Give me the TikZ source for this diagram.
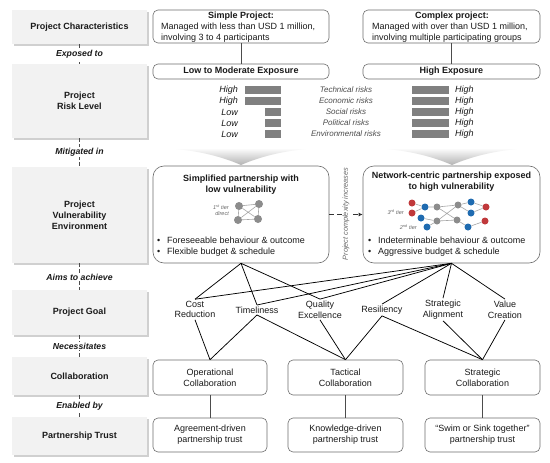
\documentclass[tikz,border=0pt]{standalone}
\usepackage{fontspec}
\setmainfont{Liberation Sans}
\usetikzlibrary{arrows.meta,shadows}
\definecolor{leftfill}{HTML}{F2F2F2}
\definecolor{boxline}{HTML}{6E6E6E}
\definecolor{barcol}{HTML}{808080}
\definecolor{txt}{HTML}{1A1A1A}
\definecolor{redn}{HTML}{C0393B}
\definecolor{bluen}{HTML}{1F6BB0}
\definecolor{greyn}{HTML}{8C8C8C}
\definecolor{edgec}{HTML}{A6A6A6}
\begin{document}
\begin{tikzpicture}[x=1pt,y=-1pt,
  leftbox/.style={fill=leftfill, draw=none, minimum width=135pt, inner sep=2pt, align=center,
     font=\fontsize{9}{10.8}\selectfont\bfseries, text=txt,
     drop shadow={shadow xshift=1.5pt, shadow yshift=-1.5pt, fill=black!30, opacity=0.6}},
  connlabel/.style={fill=white, inner sep=1pt, font=\fontsize{8.7}{10}\selectfont\bfseries\itshape, text=txt},
  rbox/.style={draw=boxline, line width=0.6pt, rounded corners=5pt, inner sep=0pt},
  vbox/.style={draw=boxline, line width=0.6pt, rounded corners=11pt, inner sep=0pt},
  regtext/.style={font=\fontsize{9}{10.8}\selectfont, text=txt, inner sep=0pt},
  boldtext/.style={font=\fontsize{9}{11}\selectfont\bfseries, text=txt, inner sep=0pt},
  risklvl/.style={font=\fontsize{9}{10}\selectfont\itshape, text=txt, inner sep=0pt},
  riskname/.style={font=\fontsize{8}{9}\selectfont\itshape, text=black!70, inner sep=0pt},
  riskbar/.style={fill=barcol, draw=none},
  goal/.style={font=\fontsize{9}{10.8}\selectfont, text=txt, align=center, inner sep=1.5pt},
  conn/.style={line width=0.75pt, draw=black},
  vconn/.style={line width=0.9pt, draw=black!70},
  dashconn/.style={line width=0.8pt, draw=black!70, dash pattern=on 4pt off 2pt},
  dot/.style={circle, inner sep=0pt, minimum size=7pt},
  bigdot/.style={circle, inner sep=0pt, minimum size=8pt, fill=greyn},
  nedge/.style={draw=edgec, line width=0.6pt},
  tier/.style={font=\fontsize{5.5}{6}\selectfont\itshape, text=black!60, inner sep=0pt}
]
\useasboundingbox (0,0) rectangle (550,463);
\fill[white] (0,0) rectangle (550,463);

% ---------- left column ----------
\node[leftbox, minimum height=34pt] (pc) at (79.5,27) {Project Characteristics};
\node[leftbox, minimum height=74pt] (prl) at (79.5,101) {Project\\Risk Level};
\node[leftbox, minimum height=96pt] (pve) at (79.5,215) {Project\\Vulnerability\\Environment};
\node[leftbox, minimum height=45pt] (pg) at (79.5,312.5) {Project Goal};
\node[leftbox, minimum height=38pt] (col) at (79.5,376) {Collaboration};
\node[leftbox, minimum height=38pt] (ptr) at (79.5,436) {Partnership Trust};

\draw[dashconn] (pc.south) -- (prl.north);
\draw[dashconn] (prl.south) -- (pve.north);
\draw[dashconn] (pve.south) -- (pg.north);
\draw[dashconn] (pg.south) -- (col.north);
\draw[dashconn] (col.south) -- (ptr.north);
\node[connlabel] (l1) at (79.5,54.5) {Exposed to};
\node[connlabel] (l2) at (79.5,152) {Mitigated in};
\node[connlabel] (l3) at (79.5,277) {Aims to achieve};
\node[connlabel] (l4) at (79.5,346) {Necessitates};
\node[connlabel] (l5) at (79.5,406) {Enabled by};

% ---------- project characteristics ----------
\node[rbox, minimum width=176pt, minimum height=33pt] (sp) at (241,26.5) {};
\node[boldtext] (spt) at (241,16.5) {Simple Project:};
\node[regtext, anchor=west, align=left] (spb) at (161,33) {Managed with less than USD 1 million,\\involving 3 to 4 participants};
\node[rbox, minimum width=177pt, minimum height=33pt] (cp) at (451.5,26.5) {};
\node[boldtext] (cpt) at (452,16.5) {Complex project:};
\node[regtext, anchor=west, align=left] (cpb) at (372,33) {Managed with over than USD 1 million,\\involving multiple participating groups};

% ---------- exposure ----------
\node[rbox, minimum width=176pt, minimum height=15pt, font=\fontsize{9}{10}\selectfont\bfseries, text=txt] (lme) at (241,71.5) {Low to Moderate Exposure};
\node[rbox, minimum width=177pt, minimum height=15pt, font=\fontsize{9}{10}\selectfont\bfseries, text=txt] (he) at (451.5,71.5) {High Exposure};
\draw[vconn] (sp.south) -- (lme.north);
\draw[vconn] (cp.south) -- (he.north);

% risk rows
\node[risklvl, anchor=east] (a1) at (238,90) {High};
\node[risklvl, anchor=east] (a2) at (238,101) {High};
\node[risklvl, anchor=east] (a3) at (238,112) {Low};
\node[risklvl, anchor=east] (a4) at (238,123) {Low};
\node[risklvl, anchor=east] (a5) at (238,134) {Low};
\fill[riskbar] (245,86) rectangle (281,94);
\fill[riskbar] (245,97) rectangle (281,105);
\fill[riskbar] (265,108) rectangle (281,116);
\fill[riskbar] (265,119) rectangle (281,127);
\fill[riskbar] (265,130) rectangle (281,138);
\node[riskname] (r1) at (346,90) {Technical risks};
\node[riskname] (r2) at (346,101) {Economic risks};
\node[riskname] (r3) at (346,112) {Social risks};
\node[riskname] (r4) at (346,123) {Political risks};
\node[riskname] (r5) at (346,134) {Environmental risks};
\fill[riskbar] (412,86) rectangle (449,94);
\fill[riskbar] (412,97) rectangle (449,105);
\fill[riskbar] (412,108) rectangle (449,116);
\fill[riskbar] (412,119) rectangle (449,127);
\fill[riskbar] (412,130) rectangle (449,138);
\node[risklvl, anchor=west] (b1) at (455,90) {High};
\node[risklvl, anchor=west] (b2) at (455,101) {High};
\node[risklvl, anchor=west] (b3) at (455,112) {High};
\node[risklvl, anchor=west] (b4) at (455,123) {High};
\node[risklvl, anchor=west] (b5) at (455,134) {High};

% big shaded arrows
\shade[top color=white, bottom color=black!30] (163,148) .. controls (200,150) and (225,158) .. (241,165) .. controls (257,158) and (282,150) .. (319,148) -- cycle;
\shade[top color=white, bottom color=black!30] (374,148) .. controls (411,150) and (436,158) .. (452,165) .. controls (468,158) and (493,150) .. (530,148) -- cycle;

% ---------- vulnerability ----------
\node[vbox, minimum width=176pt, minimum height=97pt] (lvb) at (241,214.5) {};
\node[vbox, minimum width=177pt, minimum height=97pt] (rvb) at (451.5,214.5) {};
\node[boldtext, align=center] (lvt) at (241,184.5) {Simplified partnership with\\low vulnerability};
\node[boldtext, align=center] (rvt) at (451.5,181.5) {Network-centric partnership exposed\\to high vulnerability};
\node[regtext, anchor=west, align=left] (lvl) at (157,247) {\makebox[10pt][l]{\textbullet}Foreseeable behaviour \& outcome\\\makebox[10pt][l]{\textbullet}Flexible budget \& schedule};
\node[regtext, anchor=west, align=left] (rvl) at (368,247) {\makebox[10pt][l]{\textbullet}Indeterminable behaviour \& outcome\\\makebox[10pt][l]{\textbullet}Aggressive budget \& schedule};

% left network
\node[bigdot] (m1) at (239,206) {};
\node[bigdot] (m2) at (259,204) {};
\node[bigdot] (m3) at (238,220) {};
\node[bigdot] (m4) at (258,219) {};
\draw[nedge] (m1) -- (m2) (m2) -- (m4) (m4) -- (m3) (m3) -- (m1) (m1) -- (m4) (m2) -- (m3);
\node[tier, align=right, anchor=east] (t1) at (229,210) {1\textsuperscript{st} tier\\direct};

% right network
\node[dot, fill=redn] (x1) at (412,203) {};
\node[dot, fill=redn] (x2) at (412,213) {};
\node[dot, fill=bluen] (y1) at (425,207) {};
\node[dot, fill=bluen] (y2) at (421,218) {};
\node[dot, fill=bluen] (y3) at (427,227) {};
\node[dot, fill=greyn] (g1) at (437,207) {};
\node[dot, fill=greyn] (g2) at (437,221) {};
\node[dot, fill=greyn] (g3) at (458,205) {};
\node[dot, fill=greyn] (g4) at (457,220) {};
\node[dot, fill=bluen] (y4) at (471,202) {};
\node[dot, fill=bluen] (y5) at (471,213) {};
\node[dot, fill=bluen] (y6) at (468,227) {};
\node[dot, fill=redn] (x3) at (486,207) {};
\node[dot, fill=redn] (x4) at (485,221) {};
\draw[nedge] (x1) -- (y1) (x2) -- (y1) (y1) -- (g1) (y2) -- (g2) (y3) -- (g2)
  (g1) -- (g3) (g1) -- (g4) (g2) -- (g3) (g2) -- (g4)
  (g3) -- (y4) (g3) -- (y5) (g4) -- (y6) (y4) -- (x3) (y5) -- (x3) (y6) -- (x4);
\node[tier, anchor=east] (t3) at (404,212) {3\textsuperscript{rd} tier};
\node[tier, anchor=east] (t2) at (417,227) {2\textsuperscript{nd} tier};

% complexity arrow
\draw[line width=0.8pt, draw=black!80, dash pattern=on 5pt off 3pt, -{Latex[length=4pt,width=4pt]}] (lvb.east) -- (rvb.west);
\node[fill=white, inner sep=1pt, rotate=90, font=\fontsize{7.3}{8}\selectfont\itshape, text=black!60] (pci) at (346,214) {Project complexity increases};

% ---------- goals ----------
\node[goal] (cost) at (195,309.5) {Cost\\Reduction};
\node[goal] (time) at (257,310) {Timeliness};
\node[goal] (qual) at (320,309.5) {Quality\\Excellence};
\node[goal] (res) at (382,310) {Resiliency};
\node[goal] (strat) at (443,309.5) {Strategic\\Alignment};
\node[goal] (val) at (505,309.5) {Value\\Creation};

\draw[conn] (lvb.south) -- (cost.north);
\draw[conn] (lvb.south) -- (time.north);
\draw[conn] (lvb.south) -- (qual.north);
\draw[conn] (rvb.south) -- (cost.north);
\draw[conn] (rvb.south) -- (time.north);
\draw[conn] (rvb.south) -- (qual.north);
\draw[conn] (rvb.south) -- (res.north);
\draw[conn] (rvb.south) -- (strat.north);
\draw[conn] (rvb.south) -- (val.north);

% ---------- collaboration ----------
\node[rbox, minimum width=114pt, minimum height=35pt, regtext, align=center] (op) at (210,377.5) {Operational\\Collaboration};
\node[rbox, minimum width=115pt, minimum height=35pt, regtext, align=center] (tac) at (345.5,377.5) {Tactical\\Collaboration};
\node[rbox, minimum width=115pt, minimum height=35pt, regtext, align=center] (stc) at (482.5,377.5) {Strategic\\Collaboration};

\draw[conn] (cost.south) -- (op.north);
\draw[conn] (time.south) -- (op.north);
\draw[conn] (time.south) -- (tac.north);
\draw[conn] (qual.south) -- (tac.north);
\draw[conn] (res.south) -- (tac.north);
\draw[conn] (res.south) -- (stc.north);
\draw[conn] (strat.south) -- (stc.north);
\draw[conn] (val.south) -- (stc.north);

% ---------- trust ----------
\node[rbox, minimum width=114pt, minimum height=34pt, regtext, align=center] (opt) at (210,435) {Agreement-driven\\partnership trust};
\node[rbox, minimum width=115pt, minimum height=34pt, regtext, align=center] (tact) at (345.5,435) {Knowledge-driven\\partnership trust};
\node[rbox, minimum width=115pt, minimum height=34pt, regtext, align=center] (stct) at (482.5,435) {``Swim or Sink together''\\partnership trust};
\draw[vconn] (op.south) -- (opt.north);
\draw[vconn] (tac.south) -- (tact.north);
\draw[vconn] (stc.south) -- (stct.north);
\end{tikzpicture}
\end{document}
